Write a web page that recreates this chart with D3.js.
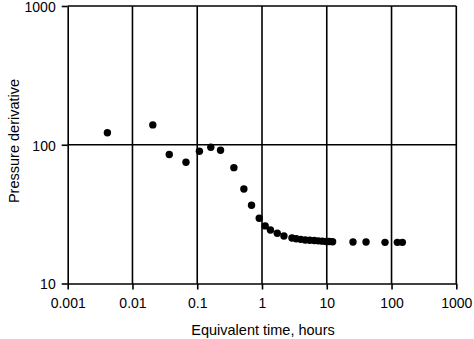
<!DOCTYPE html>
<html>
<head>
<meta charset="utf-8">
<script src="https://cdn.jsdelivr.net/npm/d3@7"></script>
<style>
  html, body { margin: 0; padding: 0; background: #fff; }
  svg { display: block; }
  text { font-family: "Liberation Sans", Arial, Helvetica, sans-serif; fill: #000; }
</style>
</head>
<body>
<svg id="chart" width="474" height="339"></svg>
<script>
// Equivalent time (hours) and pressure derivative readings
const timeHours = [0.0041, 0.0206, 0.037, 0.067, 0.108, 0.162, 0.229, 0.368, 0.525, 0.689, 0.906,
                   1.12, 1.35, 1.72, 2.18, 2.9, 3.38, 3.96, 4.65, 5.46, 6.41, 7.39, 8.52, 9.82, 10.9, 12.3,
                   25.4, 40.4, 79.3, 123, 147];
const pressureDerivative = [122, 139, 85, 74.8, 89.8, 95.9, 91.2, 68.4, 48.0, 36.6, 29.5,
                            26.0, 24.3, 23.0, 22.0, 21.3, 21.0, 20.8, 20.6, 20.5, 20.4, 20.3, 20.2, 20.1, 20.1, 20.0,
                            19.9, 19.9, 19.8, 19.8, 19.8];
const xTicks = [0.001, 0.01, 0.1, 1, 10, 100, 1000];
const yTicks = [10, 100, 1000];
const xTickLabels = ["0.001", "0.01", "0.1", "1", "10", "100", "1000"];
const yTickLabels = ["10", "100", "1000"];
const xTitle = "Equivalent time, hours";
const yTitle = "Pressure derivative";

(function () {
  const svg = d3.select("#chart");
  const m = { left: 67.7, right: 456.3, top: 6, bottom: 283.5 };

  const x = d3.scaleLog().domain([0.001, 1000]).range([m.left, m.right]);
  const y = d3.scaleLog().domain([10, 1000]).range([m.bottom, m.top]);

  const lw = 1.6;

  // Vertical gridlines at each decade
  svg.append("g").selectAll("line")
    .data(xTicks.slice(1))
    .join("line")
    .attr("x1", d => x(d)).attr("x2", d => x(d))
    .attr("y1", m.top).attr("y2", m.bottom)
    .attr("stroke", "#000").attr("stroke-width", lw);

  // Horizontal gridlines at each decade
  svg.append("g").selectAll("line")
    .data(yTicks.slice(1))
    .join("line")
    .attr("x1", m.left).attr("x2", m.right)
    .attr("y1", d => y(d)).attr("y2", d => y(d))
    .attr("stroke", "#000").attr("stroke-width", lw);

  // Bottom axis
  const xAxis = d3.axisBottom(x)
    .tickValues(xTicks)
    .tickFormat((d, i) => xTickLabels[i])
    .tickSize(6)
    .tickSizeOuter(0)
    .tickPadding(9);
  const gx = svg.append("g").attr("transform", `translate(0,${m.bottom})`).call(xAxis);
  gx.select(".domain").attr("stroke", "#000").attr("stroke-width", lw);
  gx.selectAll(".tick line").attr("stroke", "#000").attr("stroke-width", lw);
  gx.selectAll(".tick text").attr("font-size", 14).attr("font-family", "Liberation Sans, Arial, sans-serif");

  // Left axis
  const yAxis = d3.axisLeft(y)
    .tickValues(yTicks)
    .tickFormat((d, i) => yTickLabels[i])
    .tickSize(6)
    .tickSizeOuter(0)
    .tickPadding(6);
  const gy = svg.append("g").attr("transform", `translate(${m.left},0)`).call(yAxis);
  gy.select(".domain").attr("stroke", "#000").attr("stroke-width", lw);
  gy.selectAll(".tick line").attr("stroke", "#000").attr("stroke-width", lw);
  gy.selectAll(".tick text")
    .attr("font-size", 14)
    .attr("font-family", "Liberation Sans, Arial, sans-serif")
    .attr("dy", "0.38em");

  // Data points
  svg.append("g").selectAll("circle")
    .data(timeHours.map((t, i) => [t, pressureDerivative[i]]))
    .join("circle")
    .attr("cx", d => x(d[0]))
    .attr("cy", d => y(d[1]))
    .attr("r", 3.7)
    .attr("fill", "#000");

  // Axis titles
  svg.append("text")
    .attr("x", 263)
    .attr("y", 334.5)
    .attr("text-anchor", "middle")
    .attr("font-size", 14.5)
    .text(xTitle);

  svg.append("text")
    .attr("transform", "translate(18.5,141) rotate(-90)")
    .attr("text-anchor", "middle")
    .attr("font-size", 14.5)
    .text(yTitle);
})();
</script>
</body>
</html>
